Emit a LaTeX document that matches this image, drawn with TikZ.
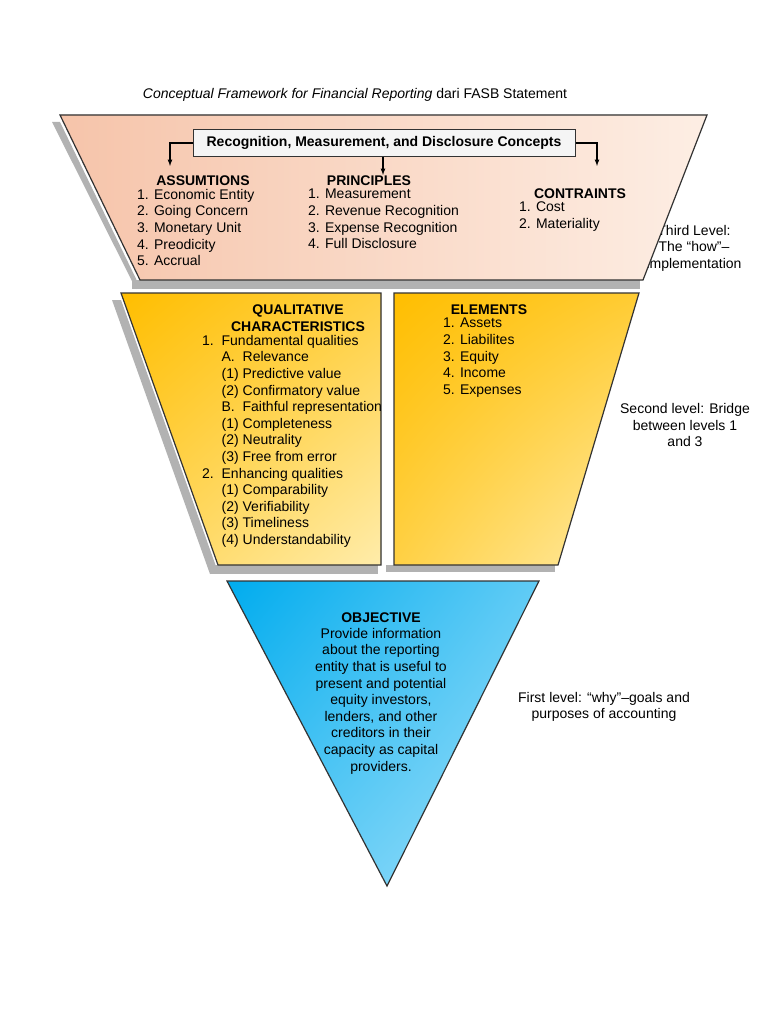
\documentclass[tikz,border=0pt]{standalone}
\usepackage{fontspec}
\setmainfont{Liberation Sans}
\usetikzlibrary{positioning,shadings}
\definecolor{peachA}{RGB}{246,196,170}
\definecolor{peachB}{RGB}{253,238,228}
\definecolor{goldA}{RGB}{255,190,0}
\definecolor{goldB}{RGB}{255,236,170}
\definecolor{blueA}{RGB}{0,172,238}
\definecolor{blueB}{RGB}{160,224,250}
\tikzset{
  panel/.style={draw=black!80, line width=1.2pt},
  shade/.style={fill=black!30},
  body/.style={font=\fontsize{14}{16.6}\selectfont, align=left, inner sep=0pt},
  head/.style={font=\fontsize{14}{16.6}\selectfont\bfseries, align=center, inner sep=0pt},
  note/.style={font=\fontsize{14}{16.6}\selectfont, align=center, inner sep=0pt},
  arr/.style={-latex, line width=1.2pt}
}
\begin{document}
\begin{tikzpicture}[x=1pt, y=-1pt]
  \useasboundingbox (0,0) rectangle (768,1024);
  \fill[white] (0,0) rectangle (768,1024);

  % labels on the right
  \node[note] (third) at (694,248) {Third Level:\\The ``how''--\\implementation};
  \node[note] (second) at (685,425) {Second level: Bridge\\between levels 1\\and 3};
  \node[note] (first) at (604,707) {First level: ``why''--goals and\\purposes of accounting};
  \node[font=\fontsize{14}{16}\selectfont] (title) at (355,95)
    {\textit{Conceptual Framework for Financial Reporting} dari FASB Statement};

  % third level
  \fill[shade] (52,122) -- (60,122) -- (140,287) -- (136,289) -- cycle;
  \fill[shade] (132,280) rectangle (640,289);
  \shade[left color=peachA, right color=peachB, panel]
    (60,115) -- (707,115) -- (643,280) -- (140,280) -- cycle;
  \node[draw=black!80, fill=black!4, line width=1pt, minimum width=382pt, minimum height=27pt,
    font=\fontsize{14}{16}\selectfont\bfseries] (rmd) at (384,143)
    {Recognition, Measurement, and Disclosure Concepts};
  \coordinate (lhook) at (170,143);
  \coordinate (rhook) at (597,143);
  \coordinate (ltip) at (170,166);
  \coordinate (rtip) at (597,166);
  \coordinate (mtip) at (383,175);
  \draw[arr] (rmd.west) -- (lhook) -- (ltip);
  \draw[arr] (rmd.east) -- (rhook) -- (rtip);
  \draw[arr] (rmd.south -| mtip) -- (mtip);

  \node[head] (assum) at (203,181) {ASSUMTIONS};
  \node[body, anchor=north west] (assumlist) at (137,189)
    {1. Economic Entity\\2. Going Concern\\3. Monetary Unit\\4. Preodicity\\5. Accrual};
  \node[head] (princ) at (369,181) {PRINCIPLES};
  \node[body, anchor=north west] (princlist) at (308,189)
    {1. Measurement\\2. Revenue Recognition\\3. Expense Recognition\\4. Full Disclosure};
  \node[head] (contr) at (580,194) {CONTRAINTS};
  \node[body, anchor=north west] (contrlist) at (519,202) {1. Cost\\2. Materiality};

  % second level
  \fill[shade] (112,300) -- (121,300) -- (218,572) -- (210,574) -- cycle;
  \fill[shade] (210,565) rectangle (378,574);
  \fill[shade] (386,565) rectangle (555,572);
  \shade[upper left=goldA, lower right=goldB, upper right=goldA!60!goldB, lower left=goldA!50!goldB, panel]
    (121,293) -- (381,293) -- (381,565) -- (218,565) -- cycle;
  \shade[upper left=goldA, lower right=goldB, upper right=goldA!70!goldB, lower left=goldA!60!goldB, panel]
    (394,293) -- (639,293) -- (558,565) -- (394,565) -- cycle;
  \node[head] (qual) at (298,318) {QUALITATIVE\\CHARACTERISTICS};
  \node[body, anchor=north west] (quallist) at (202,335)
    {1.\ \ Fundamental qualities\\
     \phantom{1.\ \ }A.\ \ Relevance\\
     \phantom{1.\ \ }(1)\ Predictive value\\
     \phantom{1.\ \ }(2)\ Confirmatory value\\
     \phantom{1.\ \ }B.\ \ Faithful representation\\
     \phantom{1.\ \ }(1)\ Completeness\\
     \phantom{1.\ \ }(2)\ Neutrality\\
     \phantom{1.\ \ }(3)\ Free from error\\
     2.\ \ Enhancing qualities\\
     \phantom{1.\ \ }(1)\ Comparability\\
     \phantom{1.\ \ }(2)\ Verifiability\\
     \phantom{1.\ \ }(3)\ Timeliness\\
     \phantom{1.\ \ }(4)\ Understandability};
  \node[head] (elem) at (489,310) {ELEMENTS};
  \node[body, anchor=north west] (elemlist) at (443,318)
    {1. Assets\\2. Liabilites\\3. Equity\\4. Income\\5. Expenses};

  % first level
  \shade[upper left=blueA, lower right=blueB, upper right=blueA!40!blueB, lower left=blueA!50!blueB, panel]
    (227,581) -- (539,581) -- (387,886) -- cycle;
  \node[head] (obj) at (381,618) {OBJECTIVE};
  \node[note] (objtext) at (381,701)
    {Provide information\\about the reporting\\entity that is useful to\\present and potential\\equity investors,\\lenders, and other\\creditors in their\\capacity as capital\\providers.};
\end{tikzpicture}
\end{document}
